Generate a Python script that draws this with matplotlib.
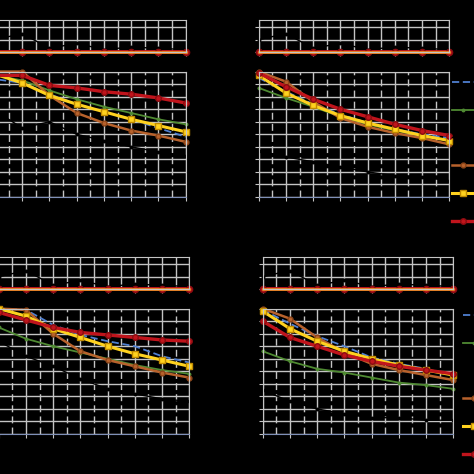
import numpy as np
import matplotlib
import matplotlib.pyplot as plt
import matplotlib.ticker as ticker

x = [0, 1, 2, 3, 4, 5, 6, 7]
labels = ['Series A', 'Series B', 'Series C', 'Series D', 'Series E', 'Series F']

# bottom (main) axes values, one dict entry per panel
p1 = {
    'blue':   [0.94, 0.91, 0.82, 0.74, 0.68, 0.62, 0.55, 0.48],
    'green':  [0.97, 0.93, 0.85, 0.78, 0.72, 0.67, 0.62, 0.58],
    'black':  [0.69, 0.55, 0.60, 0.50, 0.45, 0.40, 0.36, 0.33],
    'brown':  [1.00, 1.00, 0.81, 0.67, 0.59, 0.53, 0.49, 0.44],
    'yellow': [0.98, 0.91, 0.81, 0.74, 0.68, 0.62, 0.57, 0.52],
    'red':    [0.97, 0.97, 0.89, 0.87, 0.84, 0.82, 0.79, 0.75],
}
p2 = {
    'blue':   [0.95, 0.84, 0.74, 0.66, 0.59, 0.54, 0.50, 0.47],
    'green':  [0.87, 0.79, 0.72, 0.64, 0.58, 0.53, 0.49, 0.45],
    'black':  [0.37, 0.32, 0.28, 0.24, 0.20, 0.17, 0.16, 0.13],
    'brown':  [1.00, 0.92, 0.76, 0.63, 0.56, 0.51, 0.47, 0.42],
    'yellow': [0.97, 0.83, 0.73, 0.65, 0.59, 0.54, 0.49, 0.45],
    'red':    [0.99, 0.88, 0.78, 0.70, 0.64, 0.58, 0.53, 0.49],
}
p3 = {
    'blue':   [1.00, 0.99, 0.87, 0.79, 0.74, 0.70, 0.62, 0.57],
    'green':  [0.85, 0.76, 0.70, 0.65, 0.60, 0.55, 0.51, 0.48],
    'black':  [0.74, 0.62, 0.54, 0.44, 0.36, 0.32, 0.28, 0.26],
    'brown':  [1.00, 0.99, 0.80, 0.66, 0.59, 0.54, 0.49, 0.45],
    'yellow': [1.00, 0.94, 0.84, 0.77, 0.70, 0.64, 0.59, 0.54],
    'red':    [0.97, 0.91, 0.85, 0.81, 0.79, 0.77, 0.75, 0.74],
}
p4 = {
    'blue':   [0.99, 0.88, 0.78, 0.70, 0.61, 0.56, 0.52, 0.47],
    'green':  [0.66, 0.58, 0.52, 0.49, 0.45, 0.41, 0.39, 0.36],
    'black':  [0.35, 0.26, 0.20, 0.16, 0.13, 0.13, 0.11, 0.11],
    'brown':  [1.00, 0.92, 0.77, 0.65, 0.56, 0.51, 0.47, 0.43],
    'yellow': [0.98, 0.84, 0.74, 0.66, 0.60, 0.55, 0.51, 0.47],
    'red':    [0.90, 0.77, 0.70, 0.63, 0.58, 0.54, 0.51, 0.48],
}
# small upper axes: all series sit at the top value, black slightly above
top_flat = [0, 0, 0, 0, 0, 0, 0, 0]
top_black = [1.0, 1.5, 0.3, 0.7, 0.2, 0.4, 0.3, 0.2]

styles = {
    'blue':   dict(color='#4f7fd0', lw=1.3, ls=(0, (4, 2)), marker=None),
    'green':  dict(color='#4f8a32', lw=1.3, marker='o', ms=1.8),
    'black':  dict(color='#000000', lw=1.0, marker='o', ms=1.8),
    'brown':  dict(color='#b8622c', lw=1.8, marker='o', ms=3.5, mec='#8a4418'),
    'yellow': dict(color='#ffd21f', lw=2.2, marker='s', ms=4, mec='#c08a00'),
    'red':    dict(color='#c0141c', lw=2.4, marker='o', ms=4, mec='#8a0c10'),
}
order = ['blue', 'green', 'black', 'brown', 'yellow', 'red']
gridc = '#c4c4c4'

fig = plt.figure(figsize=(4.74, 4.74), dpi=100, facecolor='black')


def style_axes(ax, dashed_minor):
    ax.set_facecolor('black')
    ax.set_xlim(0, 7)
    ax.xaxis.set_major_locator(ticker.MultipleLocator(1))
    ax.xaxis.set_minor_locator(ticker.MultipleLocator(0.5))
    ax.grid(True, which='major', color=gridc, lw=1.0)
    if dashed_minor:
        ax.grid(True, which='minor', axis='x', color=gridc, lw=1.0, ls=(0, (5, 3)))
    else:
        ax.grid(True, which='minor', axis='x', color=gridc, lw=1.0)
    for s in ax.spines.values():
        s.set_color(gridc)
    ax.tick_params(colors=gridc, labelcolor='black', labelsize=7, length=3)
    ax.tick_params(which='minor', length=0)
    ax.set_axisbelow(True)


def panel(left, top_b, bot_b, data, leg=None, ylabels=True):
    w = 0.402
    axt = fig.add_axes([left, top_b, w, 0.0675])
    axb = fig.add_axes([left, bot_b, w, 0.2645])
    style_axes(axt, False)
    style_axes(axb, True)
    axt.set_ylim(0, 2.6)
    axt.yaxis.set_major_locator(ticker.MultipleLocator(1))
    axt.tick_params(labelbottom=False, labelleft=ylabels)
    axb.set_ylim(0, 1)
    axb.yaxis.set_major_locator(ticker.MultipleLocator(0.1))
    axb.tick_params(labelleft=ylabels)
    axb.spines['bottom'].set_color('#7f90b8')

    axt.plot(x, top_black, color='black', lw=1.0, marker='o', ms=1.8, clip_on=False)
    axt.plot(x, top_flat, color='#c0141c', lw=2.8, marker='o', ms=4.5,
             mec='#8a0c10', clip_on=False)
    axt.plot(x, top_flat, color='#f2a020', lw=1.8, clip_on=False)

    handles = []
    for k, lab in zip(order, labels):
        st = dict(styles[k])
        h, = axb.plot(x, data[k], label=lab, clip_on=False, **st)
        handles.append(h)
    if leg is not None:
        fig.legend(handles=handles, loc='upper left', bbox_to_anchor=leg,
                   frameon=False, fontsize=8, labelcolor='black',
                   handlelength=2.0, labelspacing=1.6, borderpad=0,
                   borderaxespad=0)


panel(-0.0105, 0.8903, 0.5844, p1, ylabels=False)
panel(0.5458, 0.8903, 0.5844, p2, leg=(0.9536, 0.836))
panel(-0.0027, 0.3903, 0.0844, p3, ylabels=False)
panel(0.5542, 0.3903, 0.0844, p4, leg=(0.977, 0.344))

fig.savefig('out.png', dpi=100, facecolor='black')
